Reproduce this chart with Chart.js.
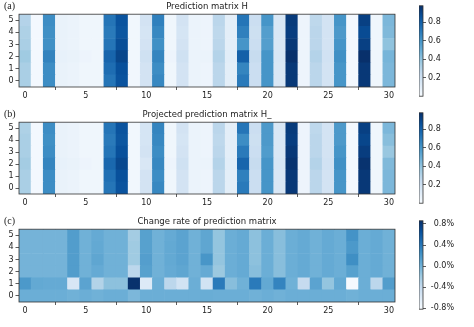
<!DOCTYPE html>
<html><head><meta charset="utf-8">
<script src="https://cdn.jsdelivr.net/npm/chart.js@4.4.0/dist/chart.umd.min.js"></script>
<style>
body{margin:0;background:#fff;width:474px;height:327px;overflow:hidden;position:relative}
canvas{position:absolute}
</style></head><body>
<canvas id="h0" width="400" height="100" style="left:0;top:0"></canvas>
<canvas id="h1" width="400" height="99" style="left:0;top:108px"></canvas>
<canvas id="h2" width="400" height="100" style="left:0;top:215px"></canvas>
<canvas id="cb0" width="55" height="104" style="left:419px;top:-1px"></canvas>
<canvas id="cb1" width="55" height="104" style="left:419px;top:106px"></canvas>
<canvas id="cb2" width="55" height="102" style="left:419px;top:214px"></canvas>
<script>
// ---------- data ----------
const columns = [0,1,2,3,4,5,6,7,8,9,10,11,12,13,14,15,16,17,18,19,20,21,22,23,24,25,26,27,28,29,30];
const rows = [0,1,2,3,4,5];
const xTickValues = [0,5,10,15,20,25,30];
const yTickValues = [0,1,2,3,4,5];
const titles = ["Prediction matrix H", "Projected prediction matrix H_", "Change rate of prediction matrix"];
const panelLabels = ["(a)", "(b)", "(c)"];

// Prediction matrix H, index = row (0..5)
const matrixH = [
 [0.33,0.02,0.63,0.07,0.06,0.04,0.04,0.72,0.85,0.03,0.18,0.65,0.04,0.18,0.06,0.05,0.28,0.10,0.70,0.22,0.60,0.15,0.95,0.05,0.28,0.18,0.60,0.02,0.95,0.04,0.45],
 [0.33,0.02,0.63,0.07,0.06,0.04,0.04,0.75,0.86,0.03,0.18,0.63,0.04,0.18,0.06,0.05,0.28,0.10,0.66,0.22,0.60,0.15,0.95,0.05,0.28,0.18,0.60,0.02,0.95,0.04,0.45],
 [0.36,0.02,0.67,0.08,0.07,0.05,0.04,0.78,0.90,0.03,0.20,0.66,0.05,0.20,0.06,0.06,0.30,0.11,0.80,0.24,0.60,0.16,0.98,0.05,0.30,0.19,0.62,0.02,0.98,0.04,0.46],
 [0.33,0.02,0.62,0.07,0.06,0.04,0.04,0.72,0.87,0.03,0.18,0.62,0.04,0.18,0.06,0.05,0.28,0.10,0.60,0.22,0.56,0.15,0.95,0.05,0.28,0.18,0.60,0.02,0.92,0.04,0.40],
 [0.32,0.02,0.62,0.07,0.06,0.04,0.04,0.70,0.84,0.03,0.17,0.65,0.04,0.17,0.06,0.05,0.27,0.10,0.68,0.21,0.56,0.15,0.93,0.05,0.28,0.18,0.58,0.02,0.88,0.04,0.44],
 [0.30,0.02,0.63,0.07,0.06,0.04,0.04,0.72,0.85,0.03,0.18,0.68,0.04,0.18,0.06,0.05,0.28,0.10,0.72,0.22,0.60,0.15,0.94,0.05,0.27,0.18,0.60,0.02,0.92,0.04,0.45]
];
// Projected prediction matrix H_
const matrixHp = [
 [0.33,0.02,0.63,0.07,0.06,0.04,0.04,0.72,0.85,0.03,0.18,0.65,0.04,0.18,0.06,0.05,0.28,0.10,0.70,0.22,0.60,0.15,0.95,0.05,0.28,0.18,0.60,0.02,0.95,0.04,0.45],
 [0.33,0.02,0.63,0.07,0.06,0.04,0.04,0.74,0.86,0.03,0.18,0.63,0.04,0.18,0.06,0.05,0.28,0.10,0.68,0.22,0.60,0.15,0.95,0.05,0.28,0.18,0.60,0.02,0.95,0.04,0.45],
 [0.35,0.02,0.66,0.08,0.07,0.05,0.04,0.77,0.89,0.03,0.15,0.65,0.05,0.20,0.06,0.06,0.30,0.11,0.78,0.24,0.60,0.16,0.97,0.05,0.30,0.19,0.62,0.02,0.97,0.04,0.44],
 [0.33,0.02,0.63,0.07,0.06,0.04,0.04,0.72,0.86,0.03,0.18,0.63,0.04,0.18,0.06,0.05,0.28,0.10,0.70,0.22,0.57,0.15,0.95,0.05,0.28,0.18,0.60,0.02,0.93,0.04,0.38],
 [0.33,0.02,0.62,0.07,0.06,0.04,0.04,0.70,0.84,0.03,0.17,0.65,0.04,0.17,0.06,0.05,0.27,0.10,0.63,0.21,0.58,0.15,0.93,0.05,0.28,0.18,0.58,0.02,0.90,0.04,0.42],
 [0.32,0.02,0.63,0.07,0.06,0.04,0.04,0.72,0.85,0.03,0.17,0.66,0.04,0.18,0.06,0.05,0.28,0.10,0.72,0.22,0.58,0.15,0.94,0.05,0.27,0.18,0.58,0.02,0.92,0.04,0.45]
];
// Change rate (%)
const matrixRate = [
 [0.02,0.02,0.02,0.02,0.00,0.02,0.00,0.02,0.02,-0.05,0.02,0.02,0.02,0.02,0.02,0.03,0.02,0.02,0.02,0.00,0.02,0.00,0.02,0.02,0.02,0.02,0.02,0.00,0.02,0.02,0.02],
 [0.18,0.06,0.05,0.05,-0.55,0.10,-0.30,-0.12,-0.12,0.85,-0.60,0.02,-0.35,-0.50,0.02,-0.50,0.38,-0.10,0.00,0.38,0.06,0.32,0.00,-0.40,0.10,-0.15,0.06,-0.80,0.02,-0.35,0.15],
 [-0.02,-0.02,-0.02,-0.02,0.15,0.00,0.05,0.00,0.00,-0.35,0.12,0.00,0.05,0.08,0.00,0.05,-0.18,0.02,0.05,-0.10,0.02,-0.10,0.02,0.05,0.00,0.05,0.02,0.12,0.02,0.05,0.00],
 [-0.02,-0.02,-0.02,-0.02,0.15,0.00,0.08,0.00,0.00,-0.20,0.14,0.00,0.06,0.10,0.00,0.20,-0.15,0.02,0.05,-0.12,0.02,-0.10,0.02,0.05,0.00,0.05,0.02,0.25,0.02,0.05,0.00],
 [-0.02,-0.02,-0.02,-0.02,0.15,0.00,0.06,0.00,0.00,-0.20,0.12,0.00,0.06,0.10,0.00,0.08,-0.15,0.02,0.05,-0.12,0.02,-0.10,0.02,0.05,0.00,0.05,0.02,0.18,0.02,0.05,0.00],
 [-0.02,-0.02,-0.02,-0.02,0.15,0.00,0.05,0.00,0.00,-0.22,0.12,0.00,0.05,0.10,0.00,0.08,-0.15,0.02,0.05,-0.12,0.02,-0.10,0.02,0.05,0.00,0.05,0.02,0.22,0.02,0.05,0.00]
];
const cbTicksH = [0.2,0.4,0.6,0.8];
const cbLabelsH = ["0.2","0.4","0.6","0.8"];
const cbTicksRate = [-0.8,-0.4,0.0,0.4,0.8];
const cbLabelsRate = ["-0.8%","-0.4%","0.0%","0.4%","0.8%"];
const rangeH = [0, 0.98];
const rangeRate = [-0.82, 0.86];

// ---------- styling ----------
const blues = ["#f7fbff","#deebf7","#c6dbef","#9ecae1","#6baed6","#4292c6","#2171b5","#08519c","#08306b"];
const FONT = "'DejaVu Sans', sans-serif";
const TXT = "#222";
const SPINE = "#333";

function hex2rgb(h){return [parseInt(h.slice(1,3),16),parseInt(h.slice(3,5),16),parseInt(h.slice(5,7),16)];}
const bluesRgb = blues.map(hex2rgb);
function colorFor(v, vmin, vmax){
  let t = (v - vmin) / (vmax - vmin);
  t = Math.max(0, Math.min(1, t));
  const n = bluesRgb.length - 1;
  const p = t * n;
  const i = Math.min(Math.floor(p), n - 1);
  const f = p - i;
  const a = bluesRgb[i], b = bluesRgb[i+1];
  return `rgb(${Math.round(a[0]+(b[0]-a[0])*f)},${Math.round(a[1]+(b[1]-a[1])*f)},${Math.round(a[2]+(b[2]-a[2])*f)})`;
}

const framePlugin = {
  id: 'frame',
  afterDatasetsDraw(chart){
    const {ctx, chartArea: a} = chart;
    ctx.save();
    ctx.strokeStyle = SPINE; ctx.lineWidth = 0.8;
    ctx.strokeRect(a.left, a.top, a.right - a.left, a.bottom - a.top);
    ctx.restore();
  },
  afterDraw(chart, args, opts){
    if (!opts.label) return;
    const ctx = chart.ctx;
    ctx.save();
    ctx.font = "10px 'Liberation Serif', 'DejaVu Serif', serif";
    ctx.fillStyle = TXT; ctx.textBaseline = 'middle'; ctx.textAlign = 'left';
    ctx.fillText(opts.label, 4, 6);
    ctx.restore();
  }
};

const cbPlugin = {
  id: 'cbar',
  beforeDatasetsDraw(chart){
    const {ctx, chartArea: a, scales: {y}} = chart;
    const g = ctx.createLinearGradient(0, y.getPixelForValue(y.min), 0, y.getPixelForValue(y.max));
    blues.forEach((c, i) => g.addColorStop(i / (blues.length - 1), c));
    ctx.save();
    ctx.fillStyle = g;
    ctx.fillRect(a.left, a.top, a.right - a.left, a.bottom - a.top);
    ctx.strokeStyle = SPINE; ctx.lineWidth = 0.8;
    ctx.strokeRect(a.left, a.top, a.right - a.left, a.bottom - a.top);
    ctx.restore();
  }
};

function heatmap(id, title, label, values, range){
  const datasets = rows.map(r => ({
    data: columns.map(c => ({x: c, y: [r - 0.5, r + 0.5]})),
    backgroundColor: ctx => colorFor(values[r][ctx.dataIndex], range[0], range[1]),
    borderWidth: 0,
    grouped: false,
    barPercentage: 1,
    categoryPercentage: 1
  }));
  new Chart(document.getElementById(id), {
    type: 'bar',
    data: {datasets},
    plugins: [framePlugin],
    options: {
      responsive: false, animation: false, devicePixelRatio: 1,
      layout: {padding: {left: 0, right: 5, top: 0, bottom: 0}},
      plugins: {
        legend: {display: false}, tooltip: {enabled: false},
        title: {display: true, text: title, fullSize: false, color: TXT,
                font: {family: FONT, size: 8.5, weight: 'normal'}, padding: {top: 2, bottom: 2}},
        frame: {label}
      },
      scales: {
        x: {
          type: 'linear', min: -0.5, max: 30.5, offset: false,
          afterBuildTicks: s => { s.ticks = xTickValues.map(v => ({value: v})); },
          afterFit: s => { s.height = 13; },
          grid: {drawOnChartArea: false, drawTicks: true, tickLength: 3, color: SPINE, lineWidth: 0.8},
          border: {display: false},
          ticks: {color: TXT, font: {family: FONT, size: 8}, padding: 1, maxRotation: 0, callback: v => String(v)}
        },
        y: {
          type: 'linear', min: -0.5, max: 5.5,
          afterBuildTicks: s => { s.ticks = yTickValues.map(v => ({value: v})); },
          afterFit: s => { s.width = 19; },
          grid: {drawOnChartArea: false, drawTicks: true, tickLength: 3.5, color: SPINE, lineWidth: 0.8},
          border: {display: false},
          ticks: {color: TXT, font: {family: FONT, size: 8}, padding: 2, callback: v => String(v)}
        }
      }
    }
  });
}

function colorbar(id, range, tickVals, tickLabels, align, rightPad){
  new Chart(document.getElementById(id), {
    type: 'bar',
    data: {labels: [''], datasets: [{data: [null]}]},
    plugins: [cbPlugin],
    options: {
      responsive: false, animation: false, devicePixelRatio: 1,
      layout: {padding: {left: 0, right: rightPad, top: 6, bottom: 6}},
      plugins: {legend: {display: false}, tooltip: {enabled: false}},
      scales: {
        x: {display: false},
        y: {
          position: 'right', type: 'linear', min: range[0], max: range[1],
          afterBuildTicks: s => { s.ticks = tickVals.map(v => ({value: v})); },
          afterFit: s => { s.width = 51 - rightPad; },
          grid: {drawOnChartArea: false, drawTicks: true, tickLength: 3, color: SPINE, lineWidth: 0.8},
          border: {display: false},
          ticks: {color: TXT, font: {family: FONT, size: 8}, padding: 2, crossAlign: align,
                  callback: (v, i) => tickLabels[i]}
        }
      }
    }
  });
}

heatmap('h0', titles[0], panelLabels[0], matrixH, rangeH);
heatmap('h1', titles[1], panelLabels[1], matrixHp, rangeH);
heatmap('h2', titles[2], panelLabels[2], matrixRate, rangeRate);
colorbar('cb0', rangeH, cbTicksH, cbLabelsH, 'near', 0);
colorbar('cb1', rangeH, cbTicksH, cbLabelsH, 'near', 0);
colorbar('cb2', rangeRate, cbTicksRate, cbLabelsRate, 'far', 20);
</script>
</body></html>
